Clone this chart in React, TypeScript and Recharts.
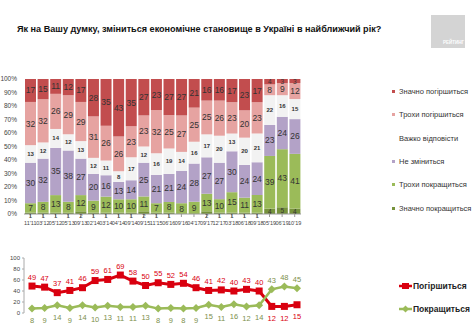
import { BarChart, Bar, XAxis, YAxis, LabelList, Legend, LineChart, Line } from 'recharts';

const categories = ["11'11", "03'12", "05'12", "05'13", "09'13", "02'14", "03'14", "04'14", "09'14", "09'15", "11'15", "06'16", "09'16", "04'17", "09'17", "12'17", "03'18", "06'18", "09'18", "05'19", "06'19", "10'19"];

const strongWorse = [17, 15, 11, 12, 17, 28, 35, 43, 35, 27, 23, 27, 27, 21, 16, 16, 17, 23, 17, 4, 3, 3];
const slightlyWorse = [32, 32, 26, 29, 29, 31, 26, 26, 23, 23, 32, 25, 27, 25, 25, 26, 23, 20, 23, 8, 9, 12];
const hardToSay = [13, 12, 14, 12, 13, 12, 11, 8, 17, 12, 16, 19, 14, 16, 17, 20, 13, 20, 21, 22, 16, 15];
const noChange = [30, 32, 35, 38, 27, 20, 16, 13, 14, 25, 21, 21, 24, 28, 27, 27, 30, 24, 24, 23, 24, 26];
const slightlyBetter = [7, 8, 13, 8, 12, 9, 12, 10, 10, 11, 7, 8, 8, 9, 13, 10, 15, 11, 13, 39, 43, 41];
const strongBetter = [1, 1, 1, 1, 2, 1, 1, 1, 1, 2, 1, 1, 0, 0, 2, 1, 1, 1, 1, 4, 5, 4];

const worse = [49, 47, 37, 41, 46, 59, 61, 69, 58, 50, 55, 52, 54, 46, 41, 42, 40, 43, 40, 12, 12, 15];
const better = [8, 9, 14, 9, 14, 10, 13, 11, 11, 13, 8, 9, 8, 9, 15, 11, 16, 12, 14, 43, 48, 45];

const pctTicks = [0, 0.1, 0.2, 0.3, 0.4, 0.5, 0.6, 0.7, 0.8, 0.9, 1];
const lineTicks = [0, 20, 40, 60, 80, 100];

const series = [
  { key: 'strongBetter', name: 'Значно покращиться', color: '#76923c', values: strongBetter },
  { key: 'slightlyBetter', name: 'Трохи покращиться', color: '#9bbb59', values: slightlyBetter },
  { key: 'noChange', name: 'Не зміниться', color: '#b3a2c7', values: noChange },
  { key: 'hardToSay', name: 'Важко відповісти', color: '#f2f2f2', values: hardToSay },
  { key: 'slightlyWorse', name: 'Трохи погіршиться', color: '#e6a3a1', values: slightlyWorse },
  { key: 'strongWorse', name: 'Значно погіршиться', color: '#c24d4e', values: strongWorse },
];

const barData = categories.map((name, i) => {
  const row: any = { name };
  series.forEach((s) => (row[s.key] = s.values[i]));
  return row;
});

const lineData = categories.map((name, i) => ({ name, worse: worse[i], better: better[i] }));

const FONT = '"Liberation Sans", Arial, sans-serif';

const SegmentLabel = (key: string) => (props: any) => {
  const { x, y, width, height, value } = props;
  if (!value) return null;
  const tiny = value < 6;
  const small = key === 'hardToSay';
  // the 1-2% bottom segments are too thin, so their labels sit on the axis
  const bottom = key === 'strongBetter' && value < 3;
  return (
    <text
      x={x + width / 2}
      y={bottom ? y + height + 1.5 : y + height / 2}
      textAnchor="middle"
      dominantBaseline="central"
      fontSize={small || bottom ? 6 : tiny ? 6.5 : 8.5}
      fontWeight={small ? 'bold' : 'normal'}
      fill="#333"
      fontFamily={FONT}
    >
      {value}
    </text>
  );
};

const BarLegend = () => (
  <div style={{ fontFamily: FONT, fontSize: 7.5, color: '#333' }}>
    {[...series].reverse().map((s) => (
      <div key={s.key} style={{ height: 23.3, display: 'flex', alignItems: 'center' }}>
        <span style={{ width: 3, height: 3, background: s.color === '#f2f2f2' ? '#fff' : s.color, marginRight: 4 }} />
        {s.name}
      </div>
    ))}
  </div>
);

const LineLegend = () => (
  <div style={{ fontFamily: FONT, fontSize: 8.5, fontWeight: 'bold', color: '#222' }}>
    {[
      { name: 'Погіршиться', color: '#d9000f', diamond: false },
      { name: 'Покращиться', color: '#9bbb59', diamond: true },
    ].map((s) => (
      <div key={s.name} style={{ height: 23, display: 'flex', alignItems: 'center' }}>
        <svg width={13} height={8} style={{ marginRight: 1 }}>
          <line x1={0} y1={4} x2={13} y2={4} stroke={s.color} strokeWidth={2.5} />
          {s.diamond ? (
            <polygon points="6.5,0.5 10,4 6.5,7.5 3,4" fill={s.color} />
          ) : (
            <rect x={3} y={1} width={7} height={6} fill={s.color} />
          )}
        </svg>
        {s.name}
      </div>
    ))}
  </div>
);

const SquareDot = (props: any) => {
  const { cx, cy, index } = props;
  return <rect key={`sq-${index}`} x={cx - 3.5} y={cy - 3.5} width={7} height={7} fill="#d9000f" />;
};

const DiamondDot = (props: any) => {
  const { cx, cy, index } = props;
  return (
    <polygon
      key={`dm-${index}`}
      points={`${cx},${cy - 4} ${cx + 4},${cy} ${cx},${cy + 4} ${cx - 4},${cy}`}
      fill="#9bbb59"
    />
  );
};

const PointLabel = (isWorse: boolean) => (props: any) => {
  const { x, y, value, index } = props;
  const above = isWorse ? worse[index] >= better[index] : better[index] > worse[index];
  return (
    <text
      x={x}
      y={above ? y - 9 : y + 12}
      textAnchor="middle"
      dominantBaseline="central"
      fontSize={7.5}
      fill={isWorse ? '#d9000f' : '#7d8f4c'}
      fontFamily={FONT}
    >
      {value}
    </text>
  );
};

export default function App() {
  return (
    <div
      style={{
        position: 'absolute',
        left: 0,
        top: 0,
        width: 474,
        height: 328,
        background: '#fff',
        fontFamily: FONT,
        overflow: 'hidden',
      }}
    >
      <div style={{ position: 'absolute', left: 17, top: 24, fontSize: 9.1, fontWeight: 'bold', color: '#111' }}>
        Як на Вашу думку, зміниться економічне становище в Україні в найближчий рік?
      </div>
      <div
        style={{
          position: 'absolute',
          left: 431,
          top: 15,
          width: 34,
          height: 33,
          background: '#d4d4d4',
          color: '#fff',
          fontSize: 4.5,
          fontWeight: 'bold',
          display: 'flex',
          alignItems: 'flex-end',
          justifyContent: 'flex-end',
          padding: '0 1px 3px 0',
          boxSizing: 'border-box',
        }}
      >
        РЕЙТИНГ
      </div>

      <div style={{ position: 'absolute', left: 0, top: 70 }}>
        <BarChart width={474} height={165} data={barData} stackOffset="expand" margin={{ top: 9, right: 89, bottom: 5, left: 0 }} barSize={11}>
          <XAxis
            dataKey="name"
            tick={{ fontSize: 5.5, fill: '#444', fontFamily: FONT }}
            tickLine={{ stroke: '#999' }}
            axisLine={{ stroke: '#999' }}
            interval={0}
            height={16}
            tickSize={3}
            tickMargin={4}
          />
          <YAxis
            domain={[0, 1]}
            ticks={pctTicks}
            tickFormatter={(v) => `${Math.round(v * 100)}%`}
            tick={{ fontSize: 6.5, fill: '#444', fontFamily: FONT }}
            axisLine={false}
            tickLine={false}
            width={24}
            tickMargin={1}
            interval={0}
          />
          <Legend
            content={<BarLegend />}
            layout="vertical"
            align="right"
            verticalAlign="top"
            wrapperStyle={{ left: 392, top: 10, width: 84 }}
          />
          {series.map((s) => (
            <Bar key={s.key} dataKey={s.key} name={s.name} stackId="a" fill={s.color} isAnimationActive={false}>
              <LabelList dataKey={s.key} content={SegmentLabel(s.key)} />
            </Bar>
          ))}
        </BarChart>
      </div>

      <div style={{ position: 'absolute', left: 0, top: 245 }}>
        <LineChart width={474} height={83} data={lineData} margin={{ top: 13, right: 89, bottom: 15, left: 0 }}>
          <XAxis dataKey="name" hide padding={{ left: 8, right: 8 }} />
          <YAxis
            domain={[0, 100]}
            ticks={lineTicks}
            interval={0}
            tick={{ fontSize: 6, fill: '#444', fontFamily: FONT }}
            axisLine={{ stroke: '#aaa' }}
            tickLine={{ stroke: '#aaa' }}
            tickSize={2}
            width={24}
          />
          <Legend
            content={<LineLegend />}
            layout="vertical"
            align="right"
            verticalAlign="top"
            wrapperStyle={{ left: 399, top: 29, width: 80 }}
          />
          <Line
            dataKey="worse"
            name="Погіршиться"
            stroke="#d9000f"
            strokeWidth={3}
            dot={SquareDot}
            activeDot={false}
            isAnimationActive={false}
          >
            <LabelList dataKey="worse" content={PointLabel(true)} />
          </Line>
          <Line
            dataKey="better"
            name="Покращиться"
            stroke="#9bbb59"
            strokeWidth={2.5}
            dot={DiamondDot}
            activeDot={false}
            isAnimationActive={false}
          >
            <LabelList dataKey="better" content={PointLabel(false)} />
          </Line>
        </LineChart>
      </div>
    </div>
  );
}
